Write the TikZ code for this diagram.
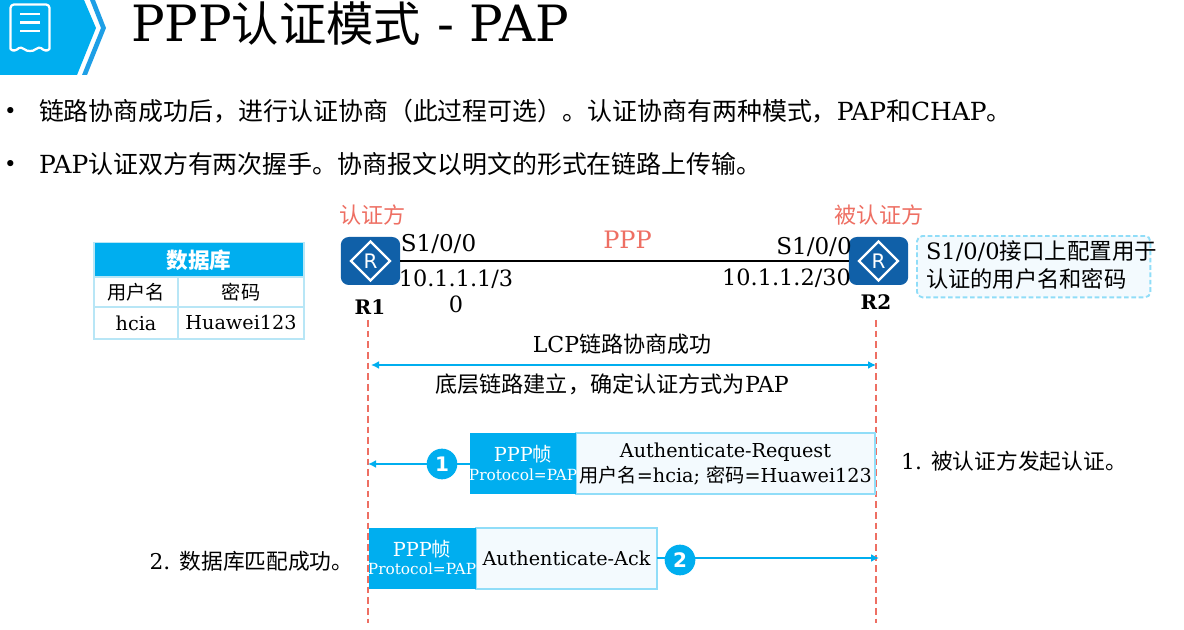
\documentclass[tikz,border=0pt]{standalone}
\usepackage{fontspec}
\setmainfont{DejaVu Serif}
\newfontfamily\cjk{Noto Sans CJK SC}
\newfontfamily\dsans{DejaVu Sans}
\newcommand{\C}[1]{{\cjk #1}}
\usetikzlibrary{arrows.meta,shapes.geometric}
\definecolor{hblue}{HTML}{00AEEF}
\definecolor{chev}{HTML}{1E9FE6}
\definecolor{pale}{HTML}{F3FAFE}
\definecolor{edgeb}{HTML}{90DDF8}
\definecolor{tline}{HTML}{B8E6F6}
\definecolor{rblue}{HTML}{1060A8}
\definecolor{salmon}{HTML}{EE6F63}
\tikzset{
  x=0.75pt,y=-0.75pt,
  txt/.style={inner sep=0pt,outer sep=0pt},
  body/.style={txt,anchor=base west,font=\fontsize{18.7}{22}\selectfont},
  bul/.style={txt,anchor=base west,font=\fontsize{16}{18}\selectfont},
  mid/.style={txt,anchor=center,font=\fontsize{16.8}{20}\selectfont},
  role/.style={txt,anchor=center,text=salmon,font=\fontsize{16.6}{20}\selectfont},
  router/.style={fill=rblue,rounded corners=6pt,minimum width=44.5pt,minimum height=36pt,inner sep=0pt,outer sep=0pt,draw=none},
  rdiamond/.style={diamond,draw=white,line width=1.7pt,minimum width=30pt,minimum height=30pt,inner sep=0pt,text=white,font=\dsans\fontsize{15}{15}\selectfont},
  rname/.style={txt,anchor=center,font=\bfseries\fontsize{15}{18}\selectfont},
  lifeline/.style={draw=salmon,line width=1.1pt,dash pattern=on 5pt off 3pt},
  flow/.style={draw=hblue,line width=1.9pt,-{Latex[length=6pt,width=6pt]}},
  badge/.style={circle,fill=hblue,text=white,minimum size=23pt,inner sep=0pt,font=\dsans\bfseries\fontsize{15}{15}\selectfont},
  hdr/.style={fill=hblue,draw=none,text=white,inner sep=0pt,outer sep=0pt,align=center,anchor=north west},
  pbox/.style={fill=pale,draw=edgeb,line width=1.4pt,inner sep=0pt,outer sep=0pt,align=center,anchor=north west},
  cell/.style={fill=white,draw=tline,line width=1.4pt,inner sep=0pt,outer sep=0pt,anchor=north west,font=\fontsize{14.4}{17}\selectfont},
  frm/.style={txt,text=white,font=\fontsize{14.5}{17}\selectfont},
  prt/.style={txt,text=white,font=\fontsize{11.5}{14}\selectfont},
  pay/.style={txt,anchor=center,font=\fontsize{14.4}{17}\selectfont},
  step note/.style={txt,anchor=center,font=\fontsize{16.3}{20}\selectfont},
}
\begin{document}
\begin{tikzpicture}
\fill[white] (0,0) rectangle (1184,630);
\useasboundingbox (0,0) rectangle (1184,630);
% header
\fill[hblue] (0,0) -- (84,0) -- (96,28) -- (77,75) -- (0,75) -- cycle;
\fill[chev] (90,0) -- (95,0) -- (106,28) -- (87,75) -- (82,75) -- (101,28) -- cycle;
\draw[white,line width=1.7pt,line join=round] (14,4.5) -- (46,4.5) to[out=0,in=90] (49.5,8) -- (49.5,49) .. controls (47,52) and (43,50) .. (41,48) .. controls (38,46) and (34,52) .. (30,51) .. controls (26,52) and (22,46) .. (19,48) .. controls (17,50) and (13,52) .. (10.5,49) -- (10.5,8) to[out=90,in=180] cycle;
\draw[white,line width=1.7pt] (20,14) -- (40,14) (20,22.5) -- (40,22.5) (20,31) -- (40,31);
\node[txt,anchor=base west,font=\fontsize{37.5}{40}\selectfont] (title) at (131,42) {PPP{\fontsize{35.5}{40}\selectfont\C{认证模式}} - PAP};
% bullets
\node[bul] (b1) at (4,119) {•};
\node[body] (l1) at (39,120.5) {\C{链路协商成功后，进行认证协商（此过程可选）。认证协商有两种模式，}PAP\C{和}CHAP\C{。}};
\node[bul] (b2) at (4,172) {•};
\node[body] (l2) at (39,173.5) {PAP\C{认证双方有两次握手。协商报文以明文的形式在链路上传输。}};
% table
\node[hdr,minimum width=157.5pt,minimum height=26pt,draw=tline,line width=1.4pt,font=\bfseries\fontsize{16.2}{18}\selectfont] (th) at (94,242.5) {\C{数据库}};
\node[cell,minimum width=63pt,minimum height=22.5pt] (c1) at (94,277) {\C{用户名}};
\node[cell,minimum width=94.5pt,minimum height=22.5pt] (c2) at (178,277) {\C{密码}};
\node[cell,minimum width=63pt,minimum height=24pt] (c3) at (94,307) {hcia};
\node[cell,minimum width=94.5pt,minimum height=24pt] (c4) at (178,307) {Huawei123};
% routers
\node[router] (R1) at (370.5,261) {};
\node[rdiamond] (R1d) at (R1.center) {R};
\node[router] (R2) at (878.5,261) {};
\node[rdiamond] (R2d) at (R2.center) {R};
\draw[black,line width=1.4pt] (R1) -- (R2);
\node[role] (a1) at (372.5,215) {\C{认证方}};
\node[role] (a2) at (879,215) {\C{被认证方}};
\node[txt,anchor=center,text=salmon,font=\fontsize{18}{22}\selectfont] (ppp) at (627.5,240) {PPP};
\node[mid,font=\fontsize{17.3}{20}\selectfont] (s1) at (438.5,244) {S1/0/0};
\node[mid,align=center,font=\fontsize{16.8}{19.5}\selectfont] (ip1) at (456,291) {10.1.1.1/3\\0};
\node[mid,font=\fontsize{17.3}{20}\selectfont] (s2) at (814,247) {S1/0/0};
\node[mid] (ip2) at (786.5,278) {10.1.1.2/30};
\node[rname] (n1) at (370,307) {R1};
\node[rname] (n2) at (876,302) {R2};
% callout
\node[anchor=north west,minimum width=175pt,minimum height=46pt,rounded corners=4pt,fill=pale,draw=edgeb,line width=1.4pt,dash pattern=on 3.5pt off 2pt,inner sep=0pt,outer sep=0pt] (note) at (917,236) {};
\node[txt,anchor=base west,font=\fontsize{16.9}{19}\selectfont] (nt1) at (926,260) {S1/0/0\C{接口上配置用于}};
\node[txt,anchor=base west,font=\fontsize{16.7}{19}\selectfont] (nt2) at (926,288) {\C{认证的用户名和密码}};
% lifelines
\coordinate (t1) at (368,320);
\coordinate (e1) at (368,623);
\coordinate (t2) at (876,320);
\coordinate (e2) at (876,623);
\draw[lifeline] (t1) -- (e1);
\draw[lifeline] (t2) -- (e2);
% LCP
\node[mid,font=\fontsize{16.5}{20}\selectfont] (lcp) at (622,344) {LCP\C{链路协商成功}};
\coordinate (la) at (371,365);
\coordinate (lb) at (876,365);
\draw[draw=hblue,line width=1.9pt,{Latex[length=6pt,width=6pt]}-{Latex[length=6pt,width=6pt]}] (la) -- (lb);
\node[mid,font=\fontsize{16.6}{20}\selectfont] (est) at (612,384) {\C{底层链路建立，确定认证方式为}PAP};
% frame 1
\node[pbox,minimum width=224.5pt,minimum height=46pt] (f1b) at (576,433) {};
\node[hdr,minimum width=79.5pt,minimum height=46pt] (f1a) at (470,433) {};
\node[frm] (f1t) at (523,454) {PPP\C{帧}};
\node[prt] (f1p) at (523,475) {Protocol=PAP};
\node[pay] (f1x) at (725.5,452) {Authenticate-Request};
\node[pay] (f1y) at (725.5,476) {\C{用户名}=hcia; \C{密码}=Huawei123};
\coordinate (h1) at (368,464);
\draw[flow] (f1a.west |- h1) -- (h1);
\node[badge] (b1c) at (442,464) {1};
\node[step note] (s1t) at (1014,461) {1. \C{被认证方发起认证。}};
% frame 2
\node[pbox,minimum width=135.5pt,minimum height=46pt] (f2b) at (476,528) {};
\node[hdr,minimum width=80pt,minimum height=46pt] (f2a) at (369,528) {};
\node[frm] (f2t) at (422,549) {PPP\C{帧}};
\node[prt] (f2p) at (422,569) {Protocol=PAP};
\node[pay] (f2x) at (566.5,558) {Authenticate-Ack};
\coordinate (h2) at (879,558);
\draw[flow] (f2b.east |- h2) -- (h2);
\node[badge] (b2c) at (680,560) {2};
\node[step note] (s2t) at (251.5,561) {2. \C{数据库匹配成功。}};
\end{tikzpicture}
\end{document}
